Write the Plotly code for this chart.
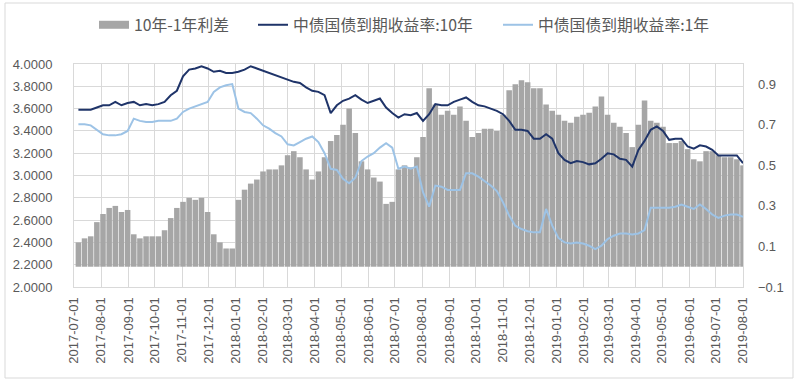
import pandas as pd
import plotly.graph_objects as go

# weekly observation dates (Thursdays)
dates = pd.date_range("2017-07-06", periods=109, freq="7D")

yield_10y = [
    3.59, 3.59, 3.59, 3.61, 3.63, 3.63, 3.66, 3.63, 3.65, 3.66,
    3.63, 3.64, 3.63, 3.64, 3.66, 3.72, 3.76, 3.89, 3.95, 3.96,
    3.98, 3.96, 3.93, 3.94, 3.92, 3.92, 3.93, 3.95, 3.98, 3.96,
    3.94, 3.92, 3.90, 3.88, 3.86, 3.84, 3.83, 3.79, 3.76, 3.75,
    3.72, 3.56, 3.63, 3.67, 3.69, 3.72, 3.68, 3.65, 3.67, 3.69,
    3.61, 3.56, 3.52, 3.55, 3.54, 3.56, 3.49, 3.55, 3.64, 3.63,
    3.63, 3.66, 3.68, 3.70, 3.66, 3.63, 3.62, 3.60, 3.58, 3.55,
    3.49, 3.41, 3.41, 3.40, 3.33, 3.33, 3.37, 3.33, 3.20, 3.14,
    3.11, 3.13, 3.12, 3.10, 3.11, 3.15, 3.20, 3.19, 3.15, 3.14,
    3.08, 3.23, 3.31, 3.41, 3.44, 3.40, 3.32, 3.33, 3.33, 3.26,
    3.24, 3.27, 3.26, 3.23, 3.18, 3.18, 3.18, 3.18, 3.11,
]

yield_1y = [
    3.46, 3.46, 3.45, 3.41, 3.37, 3.36, 3.36, 3.37, 3.40, 3.51,
    3.49, 3.48, 3.48, 3.49, 3.49, 3.49, 3.51, 3.57, 3.60, 3.62,
    3.64, 3.66, 3.75, 3.79, 3.81, 3.82, 3.60, 3.57, 3.56, 3.51,
    3.45, 3.42, 3.38, 3.35, 3.28, 3.27, 3.30, 3.33, 3.35, 3.30,
    3.20, 3.06, 3.05, 2.97, 2.93, 2.98, 3.13, 3.17, 3.20, 3.25,
    3.29, 3.25, 3.06, 3.08, 3.06, 3.08, 2.85, 2.72, 2.91, 2.90,
    2.87, 2.87, 2.87, 3.02, 3.02, 2.99, 2.95, 2.91, 2.86, 2.76,
    2.64, 2.55, 2.52, 2.50, 2.49, 2.49, 2.70, 2.55, 2.44, 2.40,
    2.39, 2.40, 2.39, 2.37, 2.34, 2.37, 2.43, 2.46, 2.48, 2.48,
    2.47, 2.48, 2.51, 2.71, 2.71, 2.71, 2.71, 2.72, 2.74, 2.72,
    2.70, 2.74, 2.70, 2.65, 2.62, 2.64, 2.65, 2.65, 2.63,
]

spread = [
    0.12, 0.14, 0.15, 0.22, 0.26, 0.29, 0.30, 0.27, 0.28, 0.16,
    0.14, 0.15, 0.15, 0.15, 0.18, 0.24, 0.29, 0.32, 0.34, 0.33,
    0.34, 0.27, 0.16, 0.12, 0.09, 0.09, 0.33, 0.38, 0.41, 0.43,
    0.47, 0.48, 0.48, 0.50, 0.55, 0.57, 0.54, 0.48, 0.43, 0.47,
    0.54, 0.62, 0.65, 0.70, 0.78, 0.66, 0.52, 0.48, 0.44, 0.42,
    0.31, 0.32, 0.48, 0.50, 0.49, 0.54, 0.64, 0.88, 0.80, 0.75,
    0.77, 0.75, 0.79, 0.72, 0.64, 0.66, 0.68, 0.68, 0.67, 0.75,
    0.87, 0.90, 0.92, 0.91, 0.88, 0.88, 0.80, 0.77, 0.75, 0.72,
    0.71, 0.74, 0.75, 0.76, 0.79, 0.84, 0.75, 0.71, 0.69, 0.66,
    0.59, 0.70, 0.82, 0.72, 0.71, 0.69, 0.61, 0.61, 0.62, 0.58,
    0.53, 0.52, 0.57, 0.57, 0.55, 0.54, 0.54, 0.53, 0.50,
]

month_ticks = pd.date_range("2017-07-01", "2019-08-01", freq="MS")
month_labels = [d.strftime("%Y-%m-%d") for d in month_ticks]

names = ["10年-1年利差", "中债国债到期收益率:10年", "中债国债到期收益率:1年"]

GRAY_BAR = "#A6A6A6"
NAVY = "#1F3469"
LIGHT = "#9DC3E6"
GRID = "#D9D9D9"
TXT = "#595959"
TICKFONT = dict(family="Liberation Sans, Arial, sans-serif", size=13, color=TXT)
LEGFONT = dict(family="Noto Sans CJK SC, sans-serif", size=15.8, color=TXT)

fig = go.Figure()
fig.add_trace(go.Bar(x=dates, y=spread, name=names[0], marker=dict(color=GRAY_BAR, line=dict(width=0)),
                     yaxis="y", showlegend=False))
# legend proxy for the bar series (wide gray box like the original)
fig.add_trace(go.Scatter(x=[None], y=[None], mode="lines", name=names[0],
                         line=dict(color=GRAY_BAR, width=8), yaxis="y", legend="legend"))
fig.add_trace(go.Scatter(x=dates, y=yield_10y, mode="lines", name=names[1],
                         line=dict(color=NAVY, width=2), yaxis="y2", legend="legend2"))
fig.add_trace(go.Scatter(x=dates, y=yield_1y, mode="lines", name=names[2],
                         line=dict(color=LIGHT, width=2), yaxis="y2", legend="legend3"))

L, R, T, B = 74, 62, 64, 102
W, H = 805, 389
pw, ph = W - L - R, H - T - B

def px_x(x):
    return (x - L) / pw

def px_y(y):
    return (H - B - y) / ph

leg_common = dict(orientation="h", yanchor="middle", xanchor="left", font=LEGFONT,
                  bgcolor="rgba(0,0,0,0)", borderwidth=0)

fig.update_layout(
    width=W, height=H,
    margin=dict(l=L, r=R, t=T, b=B, autoexpand=False),
    paper_bgcolor="white", plot_bgcolor="white",
    bargap=0.1,
    xaxis=dict(type="date", range=["2017-07-01", "2019-08-01"], tickvals=list(month_ticks),
               ticktext=month_labels, tickangle=-90, tickfont=TICKFONT, showgrid=True,
               gridcolor=GRID, gridwidth=1, showline=True, linecolor=GRID, mirror=True,
               ticks="", zeroline=False, ticklabelstandoff=4, automargin=False),
    yaxis=dict(side="right", range=[-0.1, 1.0], tick0=-0.1, dtick=0.2, tickformat=".1f",
               tickfont=TICKFONT, showgrid=False, zeroline=False, ticks="",
               ticklabelstandoff=14, automargin=False),
    yaxis2=dict(side="left", overlaying="y", range=[2.0, 4.0], dtick=0.2, tickformat=".4f",
                tickfont=TICKFONT, showgrid=True, gridcolor=GRID, gridwidth=1, zeroline=False,
                ticks="", showline=True, linecolor=GRID, mirror=True, ticklabelstandoff=18,
                automargin=False),
    legend=dict(x=px_x(94), y=px_y(25), **leg_common),
    legend2=dict(x=px_x(253), y=px_y(25), **leg_common),
    legend3=dict(x=px_x(498), y=px_y(25), **leg_common),
    shapes=[dict(type="rect", xref="paper", yref="paper", x0=px_x(5), x1=px_x(793),
                 y0=px_y(378), y1=px_y(3), line=dict(color=GRID, width=1), layer="below")],
)

fig.write_html("out.html", config={"displayModeBar": False},
               post_script="document.body.style.margin='0';")
